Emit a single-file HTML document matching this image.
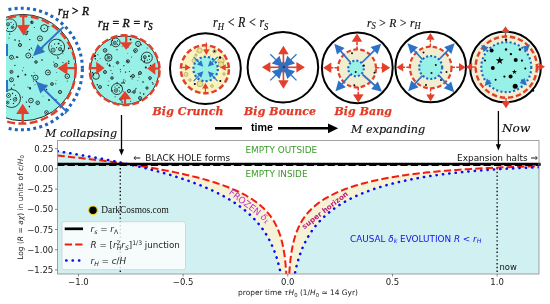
<!DOCTYPE html>
<html><head><meta charset="utf-8"><title>Big Bounce</title>
<style>html,body{margin:0;padding:0;background:#fff}svg{display:block}</style></head>
<body>
<svg width="550" height="304" viewBox="0 0 550 304">
<rect width="550" height="304" fill="#fff"/>
<defs><clipPath id="axclip"><rect x="57.50" y="140.60" width="481.50" height="133.40"/></clipPath></defs>
<g clip-path="url(#axclip)">
<path d="M57.50,151.31 L61.79,151.97 L66.03,152.64 L70.21,153.31 L74.34,153.98 L78.42,154.66 L82.44,155.34 L86.42,156.03 L90.34,156.72 L94.21,157.41 L98.03,158.11 L101.80,158.82 L105.52,159.52 L109.18,160.24 L112.80,160.96 L116.37,161.68 L119.90,162.41 L123.37,163.14 L126.79,163.88 L130.17,164.63 L133.50,165.38 L136.78,166.13 L140.01,166.89 L143.20,167.66 L146.34,168.43 L149.44,169.21 L152.49,169.99 L155.50,170.78 L158.46,171.57 L161.37,172.37 L164.24,173.18 L167.07,173.99 L169.86,174.81 L172.60,175.64 L175.30,176.47 L177.95,177.31 L180.57,178.16 L183.14,179.01 L185.67,179.87 L188.16,180.73 L190.61,181.61 L193.02,182.49 L195.38,183.38 L197.71,184.27 L200.00,185.18 L202.25,186.09 L204.46,187.01 L206.63,187.94 L208.77,188.87 L210.86,189.82 L212.92,190.77 L214.95,191.73 L216.93,192.70 L218.88,193.68 L220.79,194.67 L222.67,195.67 L224.51,196.67 L226.32,197.69 L228.09,198.72 L229.83,199.75 L231.53,200.80 L233.20,201.86 L234.84,202.93 L236.44,204.01 L238.01,205.10 L239.55,206.20 L241.05,207.31 L242.53,208.44 L243.97,209.58 L245.38,210.73 L246.76,211.89 L248.11,213.07 L249.43,214.26 L250.73,215.46 L251.99,216.67 L253.22,217.91 L254.42,219.15 L255.60,220.41 L256.75,221.69 L257.87,222.98 L258.96,224.28 L260.03,225.61 L261.07,226.95 L262.08,228.30 L263.07,229.68 L264.03,231.07 L264.96,232.48 L265.87,233.91 L266.76,235.36 L267.62,236.83 L268.46,238.32 L269.27,239.84 L270.07,241.37 L270.83,242.93 L271.58,244.51 L272.30,246.11 L273.01,247.74 L273.69,249.39 L274.34,251.07 L274.98,252.78 L275.60,254.52 L276.20,256.28 L276.77,258.07 L277.33,259.90 L277.87,261.76 L278.39,263.65 L278.89,265.57 L279.37,267.53 L279.84,269.53 L280.28,271.56 L280.71,273.63 L281.13,275.75 L281.52,277.91 L281.90,280.11 L282.27,282.36 L282.62,284.65 L282.95,287.00 L283.27,289.40 L283.58,291.86 L283.87,294.00 L284.14,294.00 L284.41,294.00 L284.66,294.00 L284.89,294.00 L285.12,294.00 L285.33,294.00 L285.53,294.00 L285.72,294.00 L285.90,294.00 L286.07,294.00 L286.22,294.00 L286.37,294.00 L286.51,294.00 L286.63,294.00 L286.75,294.00 L286.86,294.00 L286.96,294.00 L287.06,294.00 L287.14,294.00 L287.22,294.00 L287.29,294.00 L287.36,294.00 L287.41,294.00 L287.46,294.00 L287.51,294.00 L287.55,294.00 L287.59,294.00 L287.62,294.00 L287.64,294.00 L287.67,294.00 L287.68,294.00 L287.70,294.00 L287.71,294.00 L287.72,294.00 L287.73,294.00 L287.73,294.00 L287.74,294.00 L287.74,294.00 L287.74,294.00 L287.74,294.00 L287.74,294.00 L287.74,299.00 L57.50,299.00Z" fill="#d1f0f1"/>
<path d="M57.50,155.61 L61.79,156.05 L66.03,156.50 L70.21,156.94 L74.34,157.39 L78.42,157.84 L82.44,158.30 L86.42,158.75 L90.34,159.21 L94.21,159.68 L98.03,160.14 L101.80,160.61 L105.52,161.09 L109.18,161.56 L112.80,162.04 L116.37,162.52 L119.90,163.01 L123.37,163.50 L126.79,163.99 L130.17,164.49 L133.50,164.99 L136.78,165.49 L140.01,166.00 L143.20,166.51 L146.34,167.02 L149.44,167.54 L152.49,168.06 L155.50,168.59 L158.46,169.12 L161.37,169.65 L164.24,170.19 L167.07,170.73 L169.86,171.28 L172.60,171.83 L175.30,172.38 L177.95,172.94 L180.57,173.51 L183.14,174.08 L185.67,174.65 L188.16,175.23 L190.61,175.81 L193.02,176.40 L195.38,176.99 L197.71,177.59 L200.00,178.19 L202.25,178.80 L204.46,179.41 L206.63,180.03 L208.77,180.65 L210.86,181.28 L212.92,181.92 L214.95,182.56 L216.93,183.20 L218.88,183.86 L220.79,184.52 L222.67,185.18 L224.51,185.85 L226.32,186.53 L228.09,187.21 L229.83,187.91 L231.53,188.60 L233.20,189.31 L234.84,190.02 L236.44,190.74 L238.01,191.47 L239.55,192.20 L241.05,192.95 L242.53,193.70 L243.97,194.45 L245.38,195.22 L246.76,196.00 L248.11,196.78 L249.43,197.57 L250.73,198.37 L251.99,199.19 L253.22,200.01 L254.42,200.84 L255.60,201.68 L256.75,202.53 L257.87,203.39 L258.96,204.26 L260.03,205.14 L261.07,206.03 L262.08,206.94 L263.07,207.85 L264.03,208.78 L264.96,209.72 L265.87,210.68 L266.76,211.64 L267.62,212.62 L268.46,213.62 L269.27,214.63 L270.07,215.65 L270.83,216.69 L271.58,217.74 L272.30,218.81 L273.01,219.90 L273.69,221.00 L274.34,222.12 L274.98,223.26 L275.60,224.41 L276.20,225.59 L276.77,226.79 L277.33,228.00 L277.87,229.24 L278.39,230.50 L278.89,231.78 L279.37,233.09 L279.84,234.42 L280.28,235.78 L280.71,237.16 L281.13,238.57 L281.52,240.01 L281.90,241.48 L282.27,242.97 L282.62,244.51 L282.95,246.07 L283.27,247.67 L283.58,249.31 L283.87,250.98 L284.14,252.70 L284.41,254.45 L284.66,256.25 L284.89,258.10 L285.12,260.00 L285.33,261.94 L285.53,263.94 L285.72,266.00 L285.90,268.11 L286.07,270.29 L286.22,272.53 L286.37,274.85 L286.51,277.23 L286.63,279.70 L286.75,282.25 L286.86,284.88 L286.96,287.61 L287.06,290.44 L287.14,293.37 L287.22,294.00 L287.29,294.00 L287.36,294.00 L287.41,294.00 L287.46,294.00 L287.51,294.00 L287.55,294.00 L287.59,294.00 L287.62,294.00 L287.64,294.00 L287.67,294.00 L287.68,294.00 L287.70,294.00 L287.71,294.00 L287.72,294.00 L287.73,294.00 L287.73,294.00 L287.74,294.00 L287.74,294.00 L287.74,294.00 L287.74,294.00 L287.74,294.00 L287.74,294.00 L287.74,294.00 L287.74,294.00 L287.74,294.00 L287.74,294.00 L287.73,294.00 L287.73,294.00 L287.72,294.00 L287.71,294.00 L287.70,294.00 L287.68,294.00 L287.67,294.00 L287.64,294.00 L287.62,294.00 L287.59,294.00 L287.55,294.00 L287.51,294.00 L287.46,294.00 L287.41,294.00 L287.36,294.00 L287.29,294.00 L287.22,294.00 L287.14,294.00 L287.06,294.00 L286.96,294.00 L286.86,294.00 L286.75,294.00 L286.63,294.00 L286.51,294.00 L286.37,294.00 L286.22,294.00 L286.07,294.00 L285.90,294.00 L285.72,294.00 L285.53,294.00 L285.33,294.00 L285.12,294.00 L284.89,294.00 L284.66,294.00 L284.41,294.00 L284.14,294.00 L283.87,294.00 L283.58,291.86 L283.27,289.40 L282.95,287.00 L282.62,284.65 L282.27,282.36 L281.90,280.11 L281.52,277.91 L281.13,275.75 L280.71,273.63 L280.28,271.56 L279.84,269.53 L279.37,267.53 L278.89,265.57 L278.39,263.65 L277.87,261.76 L277.33,259.90 L276.77,258.07 L276.20,256.28 L275.60,254.52 L274.98,252.78 L274.34,251.07 L273.69,249.39 L273.01,247.74 L272.30,246.11 L271.58,244.51 L270.83,242.93 L270.07,241.37 L269.27,239.84 L268.46,238.32 L267.62,236.83 L266.76,235.36 L265.87,233.91 L264.96,232.48 L264.03,231.07 L263.07,229.68 L262.08,228.30 L261.07,226.95 L260.03,225.61 L258.96,224.28 L257.87,222.98 L256.75,221.69 L255.60,220.41 L254.42,219.15 L253.22,217.91 L251.99,216.67 L250.73,215.46 L249.43,214.26 L248.11,213.07 L246.76,211.89 L245.38,210.73 L243.97,209.58 L242.53,208.44 L241.05,207.31 L239.55,206.20 L238.01,205.10 L236.44,204.01 L234.84,202.93 L233.20,201.86 L231.53,200.80 L229.83,199.75 L228.09,198.72 L226.32,197.69 L224.51,196.67 L222.67,195.67 L220.79,194.67 L218.88,193.68 L216.93,192.70 L214.95,191.73 L212.92,190.77 L210.86,189.82 L208.77,188.87 L206.63,187.94 L204.46,187.01 L202.25,186.09 L200.00,185.18 L197.71,184.27 L195.38,183.38 L193.02,182.49 L190.61,181.61 L188.16,180.73 L185.67,179.87 L183.14,179.01 L180.57,178.16 L177.95,177.31 L175.30,176.47 L172.60,175.64 L169.86,174.81 L167.07,173.99 L164.24,173.18 L161.37,172.37 L158.46,171.57 L155.50,170.78 L152.49,169.99 L149.44,169.21 L146.34,168.43 L143.20,167.66 L140.01,166.89 L136.78,166.13 L133.50,165.38 L130.17,164.63 L126.79,163.88 L123.37,163.14 L119.90,162.41 L116.37,161.68 L112.80,160.96 L109.18,160.24 L105.52,159.52 L101.80,158.82 L98.03,158.11 L94.21,157.41 L90.34,156.72 L86.42,156.03 L82.44,155.34 L78.42,154.66 L74.34,153.98 L70.21,153.31 L66.03,152.64 L61.79,151.97 L57.50,151.31Z" fill="#f5f2d6"/>
<path d="M287.82,294.00 L287.82,294.00 L287.82,294.00 L287.83,294.00 L287.83,294.00 L287.83,294.00 L287.84,294.00 L287.85,294.00 L287.86,294.00 L287.87,294.00 L287.89,294.00 L287.91,294.00 L287.93,294.00 L287.96,294.00 L287.99,294.00 L288.03,294.00 L288.08,294.00 L288.13,294.00 L288.18,294.00 L288.25,294.00 L288.32,294.00 L288.39,294.00 L288.48,294.00 L288.57,294.00 L288.67,294.00 L288.78,294.00 L288.90,294.00 L289.03,294.00 L289.17,294.00 L289.32,294.00 L289.48,294.00 L289.65,294.00 L289.83,294.00 L290.03,294.00 L290.23,294.00 L290.45,294.00 L290.69,294.00 L290.93,294.00 L291.19,294.00 L291.46,294.00 L291.75,293.93 L292.05,291.35 L292.37,288.84 L292.70,286.38 L293.05,283.98 L293.41,281.64 L293.79,279.34 L294.19,277.09 L294.61,274.89 L295.04,272.74 L295.49,270.62 L295.96,268.55 L296.45,266.52 L296.95,264.53 L297.48,262.57 L298.03,260.65 L298.59,258.77 L299.18,256.91 L299.79,255.10 L300.42,253.31 L301.07,251.55 L301.74,249.82 L302.44,248.13 L303.16,246.45 L303.90,244.81 L304.67,243.19 L305.45,241.60 L306.27,240.03 L307.11,238.49 L307.97,236.97 L308.86,235.48 L309.77,234.00 L310.71,232.55 L311.68,231.12 L312.67,229.71 L313.69,228.33 L314.74,226.96 L315.82,225.61 L316.93,224.28 L318.06,222.97 L319.22,221.68 L320.41,220.41 L321.64,219.16 L322.89,217.92 L324.17,216.70 L325.48,215.50 L326.83,214.31 L328.21,213.15 L329.61,212.00 L331.05,210.86 L332.53,209.74 L334.04,208.64 L335.58,207.55 L337.15,206.48 L338.76,205.43 L340.40,204.39 L342.08,203.37 L343.79,202.36 L345.54,201.36 L347.33,200.39 L349.15,199.42 L351.00,198.48 L352.90,197.54 L354.83,196.62 L356.80,195.72 L358.81,194.83 L360.86,193.96 L362.95,193.10 L365.07,192.25 L367.24,191.42 L369.44,190.61 L371.69,189.81 L373.98,189.02 L376.31,188.25 L378.68,187.49 L381.09,186.75 L383.54,186.02 L386.04,185.31 L388.58,184.61 L391.16,183.92 L393.79,183.25 L396.46,182.59 L399.18,181.95 L401.94,181.32 L404.74,180.71 L407.59,180.11 L410.49,179.52 L413.44,178.95 L416.43,178.39 L419.46,177.85 L422.55,177.32 L425.68,176.80 L428.86,176.30 L432.09,175.81 L435.37,175.34 L438.70,174.87 L442.08,174.43 L445.51,173.99 L448.98,173.57 L452.51,173.16 L456.09,172.76 L459.72,172.38 L463.41,172.00 L467.14,171.65 L470.93,171.30 L474.77,170.96 L478.67,170.64 L482.62,170.33 L486.62,170.03 L490.68,169.74 L494.79,169.46 L498.95,169.19 L503.18,168.93 L507.45,168.68 L511.79,168.45 L516.18,168.22 L520.63,168.00 L525.13,167.79 L529.70,167.59 L534.32,167.40 L539.00,167.22 L539.00,299.00 L287.82,299.00Z" fill="#d1f0f1"/>
<path d="M287.82,294.00 L287.82,294.00 L287.82,294.00 L287.83,294.00 L287.83,294.00 L287.83,294.00 L287.84,294.00 L287.85,294.00 L287.86,294.00 L287.87,294.00 L287.89,294.00 L287.91,294.00 L287.93,294.00 L287.96,294.00 L287.99,294.00 L288.03,294.00 L288.08,294.00 L288.13,294.00 L288.18,294.00 L288.25,294.00 L288.32,294.00 L288.39,294.00 L288.48,291.46 L288.57,288.51 L288.67,285.67 L288.78,282.94 L288.90,280.29 L289.03,277.73 L289.17,275.26 L289.32,272.87 L289.48,270.55 L289.65,268.30 L289.83,266.12 L290.03,264.00 L290.23,261.94 L290.45,259.94 L290.69,257.99 L290.93,256.09 L291.19,254.25 L291.46,252.44 L291.75,250.69 L292.05,248.97 L292.37,247.30 L292.70,245.66 L293.05,244.06 L293.41,242.49 L293.79,240.96 L294.19,239.46 L294.61,238.00 L295.04,236.56 L295.49,235.15 L295.96,233.77 L296.45,232.42 L296.95,231.09 L297.48,229.78 L298.03,228.50 L298.59,227.25 L299.18,226.01 L299.79,224.80 L300.42,223.61 L301.07,222.44 L301.74,221.29 L302.44,220.15 L303.16,219.04 L303.90,217.94 L304.67,216.87 L305.45,215.80 L306.27,214.76 L307.11,213.73 L307.97,212.72 L308.86,211.72 L309.77,210.74 L310.71,209.77 L311.68,208.82 L312.67,207.88 L313.69,206.95 L314.74,206.04 L315.82,205.14 L316.93,204.26 L318.06,203.38 L319.22,202.52 L320.41,201.68 L321.64,200.84 L322.89,200.02 L324.17,199.20 L325.48,198.40 L326.83,197.61 L328.21,196.83 L329.61,196.07 L331.05,195.31 L332.53,194.56 L334.04,193.83 L335.58,193.11 L337.15,192.39 L338.76,191.69 L340.40,191.00 L342.08,190.31 L343.79,189.64 L345.54,188.98 L347.33,188.33 L349.15,187.69 L351.00,187.05 L352.90,186.43 L354.83,185.82 L356.80,185.22 L358.81,184.62 L360.86,184.04 L362.95,183.47 L365.07,182.91 L367.24,182.35 L369.44,181.81 L371.69,181.27 L373.98,180.75 L376.31,180.24 L378.68,179.73 L381.09,179.23 L383.54,178.75 L386.04,178.27 L388.58,177.81 L391.16,177.35 L393.79,176.90 L396.46,176.46 L399.18,176.04 L401.94,175.62 L404.74,175.21 L407.59,174.81 L410.49,174.42 L413.44,174.04 L416.43,173.66 L419.46,173.30 L422.55,172.95 L425.68,172.60 L428.86,172.27 L432.09,171.94 L435.37,171.63 L438.70,171.32 L442.08,171.02 L445.51,170.73 L448.98,170.45 L452.51,170.17 L456.09,169.91 L459.72,169.65 L463.41,169.41 L467.14,169.17 L470.93,168.93 L474.77,168.71 L478.67,168.50 L482.62,168.29 L486.62,168.09 L490.68,167.89 L494.79,167.71 L498.95,167.53 L503.18,167.36 L507.45,167.19 L511.79,167.03 L516.18,166.88 L520.63,166.74 L525.13,166.60 L529.70,166.46 L534.32,166.34 L539.00,166.22 L539.00,167.22 L534.32,167.40 L529.70,167.59 L525.13,167.79 L520.63,168.00 L516.18,168.22 L511.79,168.45 L507.45,168.68 L503.18,168.93 L498.95,169.19 L494.79,169.46 L490.68,169.74 L486.62,170.03 L482.62,170.33 L478.67,170.64 L474.77,170.96 L470.93,171.30 L467.14,171.65 L463.41,172.00 L459.72,172.38 L456.09,172.76 L452.51,173.16 L448.98,173.57 L445.51,173.99 L442.08,174.43 L438.70,174.87 L435.37,175.34 L432.09,175.81 L428.86,176.30 L425.68,176.80 L422.55,177.32 L419.46,177.85 L416.43,178.39 L413.44,178.95 L410.49,179.52 L407.59,180.11 L404.74,180.71 L401.94,181.32 L399.18,181.95 L396.46,182.59 L393.79,183.25 L391.16,183.92 L388.58,184.61 L386.04,185.31 L383.54,186.02 L381.09,186.75 L378.68,187.49 L376.31,188.25 L373.98,189.02 L371.69,189.81 L369.44,190.61 L367.24,191.42 L365.07,192.25 L362.95,193.10 L360.86,193.96 L358.81,194.83 L356.80,195.72 L354.83,196.62 L352.90,197.54 L351.00,198.48 L349.15,199.42 L347.33,200.39 L345.54,201.36 L343.79,202.36 L342.08,203.37 L340.40,204.39 L338.76,205.43 L337.15,206.48 L335.58,207.55 L334.04,208.64 L332.53,209.74 L331.05,210.86 L329.61,212.00 L328.21,213.15 L326.83,214.31 L325.48,215.50 L324.17,216.70 L322.89,217.92 L321.64,219.16 L320.41,220.41 L319.22,221.68 L318.06,222.97 L316.93,224.28 L315.82,225.61 L314.74,226.96 L313.69,228.33 L312.67,229.71 L311.68,231.12 L310.71,232.55 L309.77,234.00 L308.86,235.48 L307.97,236.97 L307.11,238.49 L306.27,240.03 L305.45,241.60 L304.67,243.19 L303.90,244.81 L303.16,246.45 L302.44,248.13 L301.74,249.82 L301.07,251.55 L300.42,253.31 L299.79,255.10 L299.18,256.91 L298.59,258.77 L298.03,260.65 L297.48,262.57 L296.95,264.53 L296.45,266.52 L295.96,268.55 L295.49,270.62 L295.04,272.74 L294.61,274.89 L294.19,277.09 L293.79,279.34 L293.41,281.64 L293.05,283.98 L292.70,286.38 L292.37,288.84 L292.05,291.35 L291.75,293.93 L291.46,294.00 L291.19,294.00 L290.93,294.00 L290.69,294.00 L290.45,294.00 L290.23,294.00 L290.03,294.00 L289.83,294.00 L289.65,294.00 L289.48,294.00 L289.32,294.00 L289.17,294.00 L289.03,294.00 L288.90,294.00 L288.78,294.00 L288.67,294.00 L288.57,294.00 L288.48,294.00 L288.39,294.00 L288.32,294.00 L288.25,294.00 L288.18,294.00 L288.13,294.00 L288.08,294.00 L288.03,294.00 L287.99,294.00 L287.96,294.00 L287.93,294.00 L287.91,294.00 L287.89,294.00 L287.87,294.00 L287.86,294.00 L287.85,294.00 L287.84,294.00 L287.83,294.00 L287.83,294.00 L287.83,294.00 L287.82,294.00 L287.82,294.00 L287.82,294.00Z" fill="#f5f2d6"/>
<path d="M57.50,151.31 L58.82,151.52 L60.12,151.72 L61.41,151.91 L62.68,152.11 L63.93,152.31 L65.17,152.50 L66.39,152.70 L67.59,152.89 L68.78,153.08 L69.96,153.27 L71.12,153.45 L72.26,153.64 L73.39,153.82 L74.50,154.01 L75.60,154.19 L76.68,154.37 L77.75,154.55 L78.80,154.72 L79.84,154.90 L80.86,155.07 L81.87,155.24 L82.87,155.41 L83.85,155.58 L84.81,155.75 L85.76,155.91 L86.70,156.07 L87.63,156.24 L88.54,156.40 L89.43,156.55 L90.32,156.71 L91.18,156.87 L92.04,157.02 L92.88,157.17 L93.71,157.32 L94.53,157.47 L95.33,157.62 L96.12,157.76 L96.90,157.90 L97.67,158.04 L98.42,158.18 L99.16,158.32 L99.89,158.46 L100.60,158.59 L101.31,158.72 L102.00,158.85 L102.68,158.98 L103.35,159.11 L104.00,159.23 L104.65,159.36 L105.28,159.48 L105.90,159.60 L106.51,159.72 L107.11,159.83 L107.70,159.95 L108.28,160.06 L108.84,160.17 L109.40,160.28 L109.94,160.39 L110.48,160.49 L111.00,160.60 L111.51,160.70 L112.02,160.80 L112.51,160.90 L112.99,160.99 L113.46,161.09 L113.93,161.18 L114.38,161.27 L114.82,161.36 L115.26,161.45 L115.68,161.54 L116.10,161.62 L116.50,161.71 L116.90,161.79 L117.29,161.87 L117.67,161.95 L118.04,162.02 L118.40,162.10 L118.75,162.17 L119.10,162.24 L119.43,162.31 L119.76,162.38 L120.08,162.45 L120.39,162.51 L120.69,162.58 L120.99,162.64 L121.28,162.70 L121.56,162.76 L121.83,162.82 L122.09,162.87 L122.35,162.93 L122.60,162.98 L122.85,163.03 L123.08,163.08 L123.31,163.13 L123.53,163.18 L123.75,163.23 L123.96,163.27 L124.16,163.31 L124.36,163.36 L124.55,163.40 L124.73,163.44 L124.91,163.47 L125.08,163.51 L125.24,163.55 L125.40,163.58 L125.56,163.61 L125.71,163.65 L125.85,163.68 L125.99,163.71 L126.12,163.74 L126.25,163.76 L126.37,163.79 L126.49,163.82 L126.60,163.84 L126.70,163.86 L126.81,163.89 L126.91,163.91 L127.00,163.93 L127.09,163.95 L127.17,163.97 L127.25,163.98 L127.33,164.00 L127.40,164.02 L127.47,164.03 L127.54,164.05 L127.60,164.06 L127.66,164.07 L127.71,164.08 L127.76,164.10 L127.81,164.11 L127.86,164.12 L127.90,164.13 L127.94,164.13 L127.98,164.14 L128.01,164.15 L128.04,164.16 L128.07,164.16 L128.10,164.17 L128.12,164.17 L128.14,164.18 L128.16,164.18 L128.18,164.19 L128.19,164.19 L128.21,164.19 L128.22,164.20 L128.23,164.20 L128.24,164.20 L128.25,164.20 L128.26,164.20 L128.26,164.20 L128.27,164.21 L128.27,164.21 L128.27,164.21 L128.28,164.21 L128.28,164.21 L128.28,164.21 L128.28,164.21 L128.28,164.21 L128.28,164.21 L128.28,164.21 L128.28,164.21 L57.50,164.21Z" fill="#cdeee2"/>
<path d="M57.50,155.61 L58.82,155.75 L60.12,155.88 L61.41,156.01 L62.68,156.14 L63.93,156.27 L65.17,156.40 L66.39,156.53 L67.59,156.66 L68.78,156.79 L69.96,156.91 L71.12,157.04 L72.26,157.16 L73.39,157.29 L74.50,157.41 L75.60,157.53 L76.68,157.65 L77.75,157.77 L78.80,157.88 L79.84,158.00 L80.86,158.12 L81.87,158.23 L82.87,158.34 L83.85,158.46 L84.81,158.57 L85.76,158.68 L86.70,158.79 L87.63,158.89 L88.54,159.00 L89.43,159.11 L90.32,159.21 L91.18,159.31 L92.04,159.42 L92.88,159.52 L93.71,159.62 L94.53,159.72 L95.33,159.81 L96.12,159.91 L96.90,160.00 L97.67,160.10 L98.42,160.19 L99.16,160.28 L99.89,160.37 L100.60,160.46 L101.31,160.55 L102.00,160.64 L102.68,160.72 L103.35,160.81 L104.00,160.89 L104.65,160.97 L105.28,161.06 L105.90,161.14 L106.51,161.21 L107.11,161.29 L107.70,161.37 L108.28,161.44 L108.84,161.52 L109.40,161.59 L109.94,161.66 L110.48,161.73 L111.00,161.80 L111.51,161.87 L112.02,161.94 L112.51,162.00 L112.99,162.07 L113.46,162.13 L113.93,162.19 L114.38,162.25 L114.82,162.31 L115.26,162.37 L115.68,162.43 L116.10,162.49 L116.50,162.54 L116.90,162.60 L117.29,162.65 L117.67,162.70 L118.04,162.75 L118.40,162.80 L118.75,162.85 L119.10,162.90 L119.43,162.94 L119.76,162.99 L120.08,163.03 L120.39,163.08 L120.69,163.12 L120.99,163.16 L121.28,163.20 L121.56,163.24 L121.83,163.28 L122.09,163.32 L122.35,163.35 L122.60,163.39 L122.85,163.42 L123.08,163.46 L123.31,163.49 L123.53,163.52 L123.75,163.55 L123.96,163.58 L124.16,163.61 L124.36,163.64 L124.55,163.67 L124.73,163.69 L124.91,163.72 L125.08,163.74 L125.24,163.77 L125.40,163.79 L125.56,163.81 L125.71,163.83 L125.85,163.85 L125.99,163.87 L126.12,163.89 L126.25,163.91 L126.37,163.93 L126.49,163.95 L126.60,163.96 L126.70,163.98 L126.81,163.99 L126.91,164.01 L127.00,164.02 L127.09,164.03 L127.17,164.05 L127.25,164.06 L127.33,164.07 L127.40,164.08 L127.47,164.09 L127.54,164.10 L127.60,164.11 L127.66,164.12 L127.71,164.13 L127.76,164.13 L127.81,164.14 L127.86,164.15 L127.90,164.15 L127.94,164.16 L127.98,164.16 L128.01,164.17 L128.04,164.17 L128.07,164.18 L128.10,164.18 L128.12,164.18 L128.14,164.19 L128.16,164.19 L128.18,164.19 L128.19,164.20 L128.21,164.20 L128.22,164.20 L128.23,164.20 L128.24,164.20 L128.25,164.20 L128.26,164.21 L128.26,164.21 L128.27,164.21 L128.27,164.21 L128.27,164.21 L128.28,164.21 L128.28,164.21 L128.28,164.21 L128.28,164.21 L128.28,164.21 L128.28,164.21 L128.28,164.21 L128.28,164.21 L57.50,164.21Z" fill="#d1f0f1"/>
<line x1="120.30" y1="164.21" x2="120.30" y2="274.00" stroke="#111" stroke-width="1.4" stroke-dasharray="1.4 2.4"/>
<line x1="497.13" y1="164.21" x2="497.13" y2="274.00" stroke="#111" stroke-width="1.4" stroke-dasharray="1.4 2.4"/>
<path d="M57.50,155.61 L61.79,156.05 L66.03,156.50 L70.21,156.94 L74.34,157.39 L78.42,157.84 L82.44,158.30 L86.42,158.75 L90.34,159.21 L94.21,159.68 L98.03,160.14 L101.80,160.61 L105.52,161.09 L109.18,161.56 L112.80,162.04 L116.37,162.52 L119.90,163.01 L123.37,163.50 L126.79,163.99 L130.17,164.49 L133.50,164.99 L136.78,165.49 L140.01,166.00 L143.20,166.51 L146.34,167.02 L149.44,167.54 L152.49,168.06 L155.50,168.59 L158.46,169.12 L161.37,169.65 L164.24,170.19 L167.07,170.73 L169.86,171.28 L172.60,171.83 L175.30,172.38 L177.95,172.94 L180.57,173.51 L183.14,174.08 L185.67,174.65 L188.16,175.23 L190.61,175.81 L193.02,176.40 L195.38,176.99 L197.71,177.59 L200.00,178.19 L202.25,178.80 L204.46,179.41 L206.63,180.03 L208.77,180.65 L210.86,181.28 L212.92,181.92 L214.95,182.56 L216.93,183.20 L218.88,183.86 L220.79,184.52 L222.67,185.18 L224.51,185.85 L226.32,186.53 L228.09,187.21 L229.83,187.91 L231.53,188.60 L233.20,189.31 L234.84,190.02 L236.44,190.74 L238.01,191.47 L239.55,192.20 L241.05,192.95 L242.53,193.70 L243.97,194.45 L245.38,195.22 L246.76,196.00 L248.11,196.78 L249.43,197.57 L250.73,198.37 L251.99,199.19 L253.22,200.01 L254.42,200.84 L255.60,201.68 L256.75,202.53 L257.87,203.39 L258.96,204.26 L260.03,205.14 L261.07,206.03 L262.08,206.94 L263.07,207.85 L264.03,208.78 L264.96,209.72 L265.87,210.68 L266.76,211.64 L267.62,212.62 L268.46,213.62 L269.27,214.63 L270.07,215.65 L270.83,216.69 L271.58,217.74 L272.30,218.81 L273.01,219.90 L273.69,221.00 L274.34,222.12 L274.98,223.26 L275.60,224.41 L276.20,225.59 L276.77,226.79 L277.33,228.00 L277.87,229.24 L278.39,230.50 L278.89,231.78 L279.37,233.09 L279.84,234.42 L280.28,235.78 L280.71,237.16 L281.13,238.57 L281.52,240.01 L281.90,241.48 L282.27,242.97 L282.62,244.51 L282.95,246.07 L283.27,247.67 L283.58,249.31 L283.87,250.98 L284.14,252.70 L284.41,254.45 L284.66,256.25 L284.89,258.10 L285.12,260.00 L285.33,261.94 L285.53,263.94 L285.72,266.00 L285.90,268.11 L286.07,270.29 L286.22,272.53 L286.37,274.85 L286.51,277.23 L286.63,279.70 L286.75,282.25 L286.86,284.88 L286.96,287.61 L287.06,290.44 L287.14,293.37 L287.22,294.00 L287.29,294.00 L287.36,294.00 L287.41,294.00 L287.46,294.00 L287.51,294.00 L287.55,294.00 L287.59,294.00 L287.62,294.00 L287.64,294.00 L287.67,294.00 L287.68,294.00 L287.70,294.00 L287.71,294.00 L287.72,294.00 L287.73,294.00 L287.73,294.00 L287.74,294.00 L287.74,294.00 L287.74,294.00 L287.74,294.00 L287.74,294.00" fill="none" stroke="#f21d12" stroke-width="2" stroke-dasharray="7.3 3.2"/>
<path d="M57.50,151.31 L61.79,151.97 L66.03,152.64 L70.21,153.31 L74.34,153.98 L78.42,154.66 L82.44,155.34 L86.42,156.03 L90.34,156.72 L94.21,157.41 L98.03,158.11 L101.80,158.82 L105.52,159.52 L109.18,160.24 L112.80,160.96 L116.37,161.68 L119.90,162.41 L123.37,163.14 L126.79,163.88 L130.17,164.63 L133.50,165.38 L136.78,166.13 L140.01,166.89 L143.20,167.66 L146.34,168.43 L149.44,169.21 L152.49,169.99 L155.50,170.78 L158.46,171.57 L161.37,172.37 L164.24,173.18 L167.07,173.99 L169.86,174.81 L172.60,175.64 L175.30,176.47 L177.95,177.31 L180.57,178.16 L183.14,179.01 L185.67,179.87 L188.16,180.73 L190.61,181.61 L193.02,182.49 L195.38,183.38 L197.71,184.27 L200.00,185.18 L202.25,186.09 L204.46,187.01 L206.63,187.94 L208.77,188.87 L210.86,189.82 L212.92,190.77 L214.95,191.73 L216.93,192.70 L218.88,193.68 L220.79,194.67 L222.67,195.67 L224.51,196.67 L226.32,197.69 L228.09,198.72 L229.83,199.75 L231.53,200.80 L233.20,201.86 L234.84,202.93 L236.44,204.01 L238.01,205.10 L239.55,206.20 L241.05,207.31 L242.53,208.44 L243.97,209.58 L245.38,210.73 L246.76,211.89 L248.11,213.07 L249.43,214.26 L250.73,215.46 L251.99,216.67 L253.22,217.91 L254.42,219.15 L255.60,220.41 L256.75,221.69 L257.87,222.98 L258.96,224.28 L260.03,225.61 L261.07,226.95 L262.08,228.30 L263.07,229.68 L264.03,231.07 L264.96,232.48 L265.87,233.91 L266.76,235.36 L267.62,236.83 L268.46,238.32 L269.27,239.84 L270.07,241.37 L270.83,242.93 L271.58,244.51 L272.30,246.11 L273.01,247.74 L273.69,249.39 L274.34,251.07 L274.98,252.78 L275.60,254.52 L276.20,256.28 L276.77,258.07 L277.33,259.90 L277.87,261.76 L278.39,263.65 L278.89,265.57 L279.37,267.53 L279.84,269.53 L280.28,271.56 L280.71,273.63 L281.13,275.75 L281.52,277.91 L281.90,280.11 L282.27,282.36 L282.62,284.65 L282.95,287.00 L283.27,289.40 L283.58,291.86 L283.87,294.00 L284.14,294.00 L284.41,294.00 L284.66,294.00 L284.89,294.00 L285.12,294.00 L285.33,294.00 L285.53,294.00 L285.72,294.00 L285.90,294.00 L286.07,294.00 L286.22,294.00 L286.37,294.00 L286.51,294.00 L286.63,294.00 L286.75,294.00 L286.86,294.00 L286.96,294.00 L287.06,294.00 L287.14,294.00 L287.22,294.00 L287.29,294.00 L287.36,294.00 L287.41,294.00 L287.46,294.00 L287.51,294.00 L287.55,294.00 L287.59,294.00 L287.62,294.00 L287.64,294.00 L287.67,294.00 L287.68,294.00 L287.70,294.00 L287.71,294.00 L287.72,294.00 L287.73,294.00 L287.73,294.00 L287.74,294.00 L287.74,294.00 L287.74,294.00 L287.74,294.00 L287.74,294.00" fill="none" stroke="#0a0af5" stroke-width="2.5" stroke-linecap="round" stroke-dasharray="0.3 6.1"/>
<path d="M287.82,294.00 L287.82,294.00 L287.82,294.00 L287.83,294.00 L287.83,294.00 L287.83,294.00 L287.84,294.00 L287.85,294.00 L287.86,294.00 L287.87,294.00 L287.89,294.00 L287.91,294.00 L287.93,294.00 L287.96,294.00 L287.99,294.00 L288.03,294.00 L288.08,294.00 L288.13,294.00 L288.18,294.00 L288.25,294.00 L288.32,294.00 L288.39,294.00 L288.48,291.46 L288.57,288.51 L288.67,285.67 L288.78,282.94 L288.90,280.29 L289.03,277.73 L289.17,275.26 L289.32,272.87 L289.48,270.55 L289.65,268.30 L289.83,266.12 L290.03,264.00 L290.23,261.94 L290.45,259.94 L290.69,257.99 L290.93,256.09 L291.19,254.25 L291.46,252.44 L291.75,250.69 L292.05,248.97 L292.37,247.30 L292.70,245.66 L293.05,244.06 L293.41,242.49 L293.79,240.96 L294.19,239.46 L294.61,238.00 L295.04,236.56 L295.49,235.15 L295.96,233.77 L296.45,232.42 L296.95,231.09 L297.48,229.78 L298.03,228.50 L298.59,227.25 L299.18,226.01 L299.79,224.80 L300.42,223.61 L301.07,222.44 L301.74,221.29 L302.44,220.15 L303.16,219.04 L303.90,217.94 L304.67,216.87 L305.45,215.80 L306.27,214.76 L307.11,213.73 L307.97,212.72 L308.86,211.72 L309.77,210.74 L310.71,209.77 L311.68,208.82 L312.67,207.88 L313.69,206.95 L314.74,206.04 L315.82,205.14 L316.93,204.26 L318.06,203.38 L319.22,202.52 L320.41,201.68 L321.64,200.84 L322.89,200.02 L324.17,199.20 L325.48,198.40 L326.83,197.61 L328.21,196.83 L329.61,196.07 L331.05,195.31 L332.53,194.56 L334.04,193.83 L335.58,193.11 L337.15,192.39 L338.76,191.69 L340.40,191.00 L342.08,190.31 L343.79,189.64 L345.54,188.98 L347.33,188.33 L349.15,187.69 L351.00,187.05 L352.90,186.43 L354.83,185.82 L356.80,185.22 L358.81,184.62 L360.86,184.04 L362.95,183.47 L365.07,182.91 L367.24,182.35 L369.44,181.81 L371.69,181.27 L373.98,180.75 L376.31,180.24 L378.68,179.73 L381.09,179.23 L383.54,178.75 L386.04,178.27 L388.58,177.81 L391.16,177.35 L393.79,176.90 L396.46,176.46 L399.18,176.04 L401.94,175.62 L404.74,175.21 L407.59,174.81 L410.49,174.42 L413.44,174.04 L416.43,173.66 L419.46,173.30 L422.55,172.95 L425.68,172.60 L428.86,172.27 L432.09,171.94 L435.37,171.63 L438.70,171.32 L442.08,171.02 L445.51,170.73 L448.98,170.45 L452.51,170.17 L456.09,169.91 L459.72,169.65 L463.41,169.41 L467.14,169.17 L470.93,168.93 L474.77,168.71 L478.67,168.50 L482.62,168.29 L486.62,168.09 L490.68,167.89 L494.79,167.71 L498.95,167.53 L503.18,167.36 L507.45,167.19 L511.79,167.03 L516.18,166.88 L520.63,166.74 L525.13,166.60 L529.70,166.46 L534.32,166.34 L539.00,166.22" fill="none" stroke="#f21d12" stroke-width="2" stroke-dasharray="7.3 3.2"/>
<path d="M287.82,294.00 L287.82,294.00 L287.82,294.00 L287.83,294.00 L287.83,294.00 L287.83,294.00 L287.84,294.00 L287.85,294.00 L287.86,294.00 L287.87,294.00 L287.89,294.00 L287.91,294.00 L287.93,294.00 L287.96,294.00 L287.99,294.00 L288.03,294.00 L288.08,294.00 L288.13,294.00 L288.18,294.00 L288.25,294.00 L288.32,294.00 L288.39,294.00 L288.48,294.00 L288.57,294.00 L288.67,294.00 L288.78,294.00 L288.90,294.00 L289.03,294.00 L289.17,294.00 L289.32,294.00 L289.48,294.00 L289.65,294.00 L289.83,294.00 L290.03,294.00 L290.23,294.00 L290.45,294.00 L290.69,294.00 L290.93,294.00 L291.19,294.00 L291.46,294.00 L291.75,293.93 L292.05,291.35 L292.37,288.84 L292.70,286.38 L293.05,283.98 L293.41,281.64 L293.79,279.34 L294.19,277.09 L294.61,274.89 L295.04,272.74 L295.49,270.62 L295.96,268.55 L296.45,266.52 L296.95,264.53 L297.48,262.57 L298.03,260.65 L298.59,258.77 L299.18,256.91 L299.79,255.10 L300.42,253.31 L301.07,251.55 L301.74,249.82 L302.44,248.13 L303.16,246.45 L303.90,244.81 L304.67,243.19 L305.45,241.60 L306.27,240.03 L307.11,238.49 L307.97,236.97 L308.86,235.48 L309.77,234.00 L310.71,232.55 L311.68,231.12 L312.67,229.71 L313.69,228.33 L314.74,226.96 L315.82,225.61 L316.93,224.28 L318.06,222.97 L319.22,221.68 L320.41,220.41 L321.64,219.16 L322.89,217.92 L324.17,216.70 L325.48,215.50 L326.83,214.31 L328.21,213.15 L329.61,212.00 L331.05,210.86 L332.53,209.74 L334.04,208.64 L335.58,207.55 L337.15,206.48 L338.76,205.43 L340.40,204.39 L342.08,203.37 L343.79,202.36 L345.54,201.36 L347.33,200.39 L349.15,199.42 L351.00,198.48 L352.90,197.54 L354.83,196.62 L356.80,195.72 L358.81,194.83 L360.86,193.96 L362.95,193.10 L365.07,192.25 L367.24,191.42 L369.44,190.61 L371.69,189.81 L373.98,189.02 L376.31,188.25 L378.68,187.49 L381.09,186.75 L383.54,186.02 L386.04,185.31 L388.58,184.61 L391.16,183.92 L393.79,183.25 L396.46,182.59 L399.18,181.95 L401.94,181.32 L404.74,180.71 L407.59,180.11 L410.49,179.52 L413.44,178.95 L416.43,178.39 L419.46,177.85 L422.55,177.32 L425.68,176.80 L428.86,176.30 L432.09,175.81 L435.37,175.34 L438.70,174.87 L442.08,174.43 L445.51,173.99 L448.98,173.57 L452.51,173.16 L456.09,172.76 L459.72,172.38 L463.41,172.00 L467.14,171.65 L470.93,171.30 L474.77,170.96 L478.67,170.64 L482.62,170.33 L486.62,170.03 L490.68,169.74 L494.79,169.46 L498.95,169.19 L503.18,168.93 L507.45,168.68 L511.79,168.45 L516.18,168.22 L520.63,168.00 L525.13,167.79 L529.70,167.59 L534.32,167.40 L539.00,167.22" fill="none" stroke="#0a0af5" stroke-width="2.5" stroke-linecap="round" stroke-dasharray="0.3 6.1"/>
</g>
<line x1="57.20" y1="164.0" x2="540.50" y2="164.0" stroke="#000" stroke-width="2.3"/>
<line x1="57.20" y1="164.9" x2="540.50" y2="164.9" stroke="#000" stroke-width="2.3" stroke-dasharray="7.2 3.2"/>
<rect x="57.50" y="140.60" width="481.50" height="133.40" fill="none" stroke="#8a8a8a" stroke-width="0.8"/>
<line x1="55.00" y1="148.68" x2="57.50" y2="148.68" stroke="#555" stroke-width="0.7"/>
<text x="53.30" y="151.78" font-family="DejaVu Sans, Liberation Sans, sans-serif" font-size="8.5" fill="#222" text-anchor="end">0.25</text>
<line x1="55.00" y1="168.90" x2="57.50" y2="168.90" stroke="#555" stroke-width="0.7"/>
<text x="53.30" y="172.00" font-family="DejaVu Sans, Liberation Sans, sans-serif" font-size="8.5" fill="#222" text-anchor="end">0.00</text>
<line x1="55.00" y1="189.11" x2="57.50" y2="189.11" stroke="#555" stroke-width="0.7"/>
<text x="53.30" y="192.21" font-family="DejaVu Sans, Liberation Sans, sans-serif" font-size="8.5" fill="#222" text-anchor="end">−0.25</text>
<line x1="55.00" y1="209.32" x2="57.50" y2="209.32" stroke="#555" stroke-width="0.7"/>
<text x="53.30" y="212.42" font-family="DejaVu Sans, Liberation Sans, sans-serif" font-size="8.5" fill="#222" text-anchor="end">−0.50</text>
<line x1="55.00" y1="229.53" x2="57.50" y2="229.53" stroke="#555" stroke-width="0.7"/>
<text x="53.30" y="232.63" font-family="DejaVu Sans, Liberation Sans, sans-serif" font-size="8.5" fill="#222" text-anchor="end">−0.75</text>
<line x1="55.00" y1="249.75" x2="57.50" y2="249.75" stroke="#555" stroke-width="0.7"/>
<text x="53.30" y="252.85" font-family="DejaVu Sans, Liberation Sans, sans-serif" font-size="8.5" fill="#222" text-anchor="end">−1.00</text>
<line x1="55.00" y1="269.96" x2="57.50" y2="269.96" stroke="#555" stroke-width="0.7"/>
<text x="53.30" y="273.06" font-family="DejaVu Sans, Liberation Sans, sans-serif" font-size="8.5" fill="#222" text-anchor="end">−1.25</text>
<line x1="78.43" y1="274.00" x2="78.43" y2="276.50" stroke="#555" stroke-width="0.7"/>
<text x="78.43" y="284.60" font-family="DejaVu Sans, Liberation Sans, sans-serif" font-size="8.5" fill="#222" text-anchor="middle">−1.0</text>
<line x1="183.11" y1="274.00" x2="183.11" y2="276.50" stroke="#555" stroke-width="0.7"/>
<text x="183.11" y="284.60" font-family="DejaVu Sans, Liberation Sans, sans-serif" font-size="8.5" fill="#222" text-anchor="middle">−0.5</text>
<line x1="287.78" y1="274.00" x2="287.78" y2="276.50" stroke="#555" stroke-width="0.7"/>
<text x="287.78" y="284.60" font-family="DejaVu Sans, Liberation Sans, sans-serif" font-size="8.5" fill="#222" text-anchor="middle">0.0</text>
<line x1="392.46" y1="274.00" x2="392.46" y2="276.50" stroke="#555" stroke-width="0.7"/>
<text x="392.46" y="284.60" font-family="DejaVu Sans, Liberation Sans, sans-serif" font-size="8.5" fill="#222" text-anchor="middle">0.5</text>
<line x1="497.13" y1="274.00" x2="497.13" y2="276.50" stroke="#555" stroke-width="0.7"/>
<text x="497.13" y="284.60" font-family="DejaVu Sans, Liberation Sans, sans-serif" font-size="8.5" fill="#222" text-anchor="middle">1.0</text>
<text x="298" y="295.2" font-family="DejaVu Sans, Liberation Sans, sans-serif" font-size="7.45" fill="#222" text-anchor="middle">proper time <tspan font-style="italic">τH</tspan><tspan font-size="5.3" dy="1.4">0</tspan><tspan dy="-1.4"> (1/</tspan><tspan font-style="italic">H</tspan><tspan font-size="5.3" dy="1.4">0</tspan><tspan dy="-1.4"> ≃  14 Gyr)</tspan></text>
<text transform="translate(22.8,207.5) rotate(-90)" font-family="DejaVu Sans, Liberation Sans, sans-serif" font-size="7.5" fill="#222" text-anchor="middle">Log (<tspan font-style="italic">R</tspan> = <tspan font-style="italic">aχ</tspan>)  in units of <tspan font-style="italic">c</tspan>/<tspan font-style="italic">H</tspan><tspan font-size="5.3" dy="1.4">0</tspan></text>
<text x="245.5" y="152.7" font-family="DejaVu Sans, Liberation Sans, sans-serif" font-size="8.85" fill="#3a9a2a">EMPTY OUTSIDE</text>
<text x="245.5" y="176.7" font-family="DejaVu Sans, Liberation Sans, sans-serif" font-size="8.85" fill="#3a9a2a">EMPTY INSIDE</text>
<text x="133.3" y="160.7" font-family="DejaVu Sans, Liberation Sans, sans-serif" font-size="8.95" fill="#111">⇐<tspan x="145.3">BLACK HOLE forms</tspan></text>
<text x="538" y="160.5" font-family="DejaVu Sans, Liberation Sans, sans-serif" font-size="8.95" fill="#111" text-anchor="end">Expansion halts  ⇒</text>
<text x="350" y="241.7" font-family="DejaVu Sans, Liberation Sans, sans-serif" font-size="8.85" fill="#1010f0">CAUSAL <tspan font-style="italic">δ</tspan><tspan font-size="6.2" font-style="italic" dy="1.6">k</tspan><tspan dy="-1.6"> EVOLUTION </tspan><tspan font-style="italic">R</tspan> &lt; <tspan font-style="italic">r</tspan><tspan font-size="6.2" font-style="italic" dy="1.6">H</tspan></text>
<text x="499.5" y="270" font-family="DejaVu Sans, Liberation Sans, sans-serif" font-size="8.4" fill="#111">now</text>
<text transform="translate(228.3,193.6) rotate(37.5)" font-family="DejaVu Sans, Liberation Sans, sans-serif" font-size="9" fill="#b833c8">FROZEN <tspan font-style="italic">δ</tspan><tspan font-size="6.3" font-style="italic" dy="1.6">k</tspan></text>
<text transform="translate(304.3,229.4) rotate(-38)" font-family="DejaVu Sans, Liberation Sans, sans-serif" font-size="7.25" font-weight="bold" fill="#be1e78">super horizon</text>
<circle cx="93" cy="210.3" r="4.3" fill="#000" stroke="#f2d21c" stroke-width="1.1"/>
<text x="101.3" y="213.2" font-family="Liberation Serif, DejaVu Serif, serif" font-size="9.4" fill="#111">DarkCosmos.com</text>
<rect x="62" y="221.7" width="123.5" height="48" rx="2" fill="#fff" fill-opacity="0.8" stroke="#cfcfcf" stroke-width="0.8"/>
<line x1="64.7" y1="228.8" x2="83" y2="228.8" stroke="#000" stroke-width="2.7"/>
<line x1="64.7" y1="244.6" x2="83" y2="244.6" stroke="#f21d12" stroke-width="2" stroke-dasharray="7.3 3.2"/>
<line x1="64.7" y1="260.6" x2="83" y2="260.6" stroke="#0a0af5" stroke-width="2.5" stroke-linecap="round" stroke-dasharray="0.3 6.1" stroke-dashoffset="-1.5"/>
<text x="90.6" y="231.9" font-family="DejaVu Sans, Liberation Sans, sans-serif" font-size="8.75" fill="#222"><tspan font-style="italic">r</tspan><tspan font-size="6.1" font-style="italic" dy="1.7">s</tspan><tspan dy="-1.7"> = </tspan><tspan font-style="italic">r</tspan><tspan font-size="6.1" dy="1.7">Λ</tspan></text>
<text x="90.6" y="247.8" font-family="DejaVu Sans, Liberation Sans, sans-serif" font-size="8.75" fill="#222"><tspan font-style="italic">R</tspan> = [<tspan font-style="italic">r</tspan><tspan font-size="6.1" dy="-3.3">2</tspan><tspan font-size="6.1" font-style="italic" dy="5" dx="-3.8">H</tspan><tspan font-style="italic" dy="-1.7">r</tspan><tspan font-size="6.1" font-style="italic" dy="1.7">S</tspan><tspan dy="-1.7">]</tspan><tspan font-size="6.1" dy="-3.3">1/3</tspan><tspan dy="3.3"> junction</tspan></text>
<text x="90.6" y="263.8" font-family="DejaVu Sans, Liberation Sans, sans-serif" font-size="8.75" fill="#222"><tspan font-style="italic">r</tspan><tspan font-size="6.1" font-style="italic" dy="1.7">H</tspan><tspan dy="-1.7"> = </tspan><tspan font-style="italic">c</tspan>/<tspan font-style="italic">H</tspan></text>
<text transform="translate(58.0,15.0) scale(1,1.14)" font-family="Liberation Serif, DejaVu Serif, serif" font-style="italic" font-size="11.5" fill="#111" stroke="#111" stroke-width="0.4"><tspan dy="0">r</tspan><tspan font-size="8.3" dy="2.2">H</tspan><tspan dy="-2.2"> &gt; R</tspan></text>
<text transform="translate(98.0,27.0) scale(1,1.14)" font-family="Liberation Serif, DejaVu Serif, serif" font-style="italic" font-size="11.8" fill="#111" stroke="#111" stroke-width="0.4"><tspan dy="0">r</tspan><tspan font-size="8.5" dy="2.2">H</tspan><tspan dy="-2.2"> = R = r</tspan><tspan font-size="8.5" dy="2.2">S</tspan></text>
<text transform="translate(213.0,27.0) scale(1,1.14)" font-family="Liberation Serif, DejaVu Serif, serif" font-style="italic" font-size="12" fill="#111" stroke="#111" stroke-width="0.15"><tspan dy="0">r</tspan><tspan font-size="8.6" dy="2.2">H</tspan><tspan dy="-2.2"> &lt; R &lt; r</tspan><tspan font-size="8.6" dy="2.2">S</tspan></text>
<text transform="translate(367.0,26.6) scale(1,1.14)" font-family="Liberation Serif, DejaVu Serif, serif" font-style="italic" font-size="11.6" fill="#111" stroke="#111" stroke-width="0.15"><tspan dy="0">r</tspan><tspan font-size="8.4" dy="2.2">S</tspan><tspan dy="-2.2"> &gt; R &gt; r</tspan><tspan font-size="8.4" dy="2.2">H</tspan></text>
<text x="152.5" y="114.6" font-family="DejaVu Serif, Liberation Serif, serif" font-style="italic" font-weight="bold" font-size="10.95" letter-spacing="0.12" fill="#e23a25" stroke="#e23a25" stroke-width="0.25">Big Crunch</text>
<text x="244.0" y="114.6" font-family="DejaVu Serif, Liberation Serif, serif" font-style="italic" font-weight="bold" font-size="10.95" letter-spacing="0.12" fill="#e23a25" stroke="#e23a25" stroke-width="0.25">Big Bounce</text>
<text x="334.4" y="114.6" font-family="DejaVu Serif, Liberation Serif, serif" font-style="italic" font-weight="bold" font-size="10.95" letter-spacing="0.12" fill="#e23a25" stroke="#e23a25" stroke-width="0.25">Big Bang</text>
<text x="45" y="137" font-family="DejaVu Serif, Liberation Serif, serif" font-style="italic" font-size="11.1" fill="#111" stroke="#111" stroke-width="0.15">M collapsing</text>
<text x="351" y="133" font-family="DejaVu Serif, Liberation Serif, serif" font-style="italic" font-size="11.2" fill="#111" stroke="#111" stroke-width="0.15">M expanding</text>
<text x="502" y="132.4" font-family="DejaVu Serif, Liberation Serif, serif" font-style="italic" font-size="11.5" fill="#111" stroke="#111" stroke-width="0.15" textLength="28.3" lengthAdjust="spacingAndGlyphs">Now</text>
<text x="251" y="130.7" font-family="Liberation Sans, sans-serif" font-weight="bold" font-size="10.7" fill="#000">time</text>
<line x1="215" y1="128.3" x2="242" y2="128.3" stroke="#000" stroke-width="2.6"/>
<line x1="278" y1="128.3" x2="330" y2="128.3" stroke="#000" stroke-width="2.6"/>
<path d="M338.2,128.3 L328,123.4 L328,133.2 Z" fill="#000"/>
<line x1="121.5" y1="115.0" x2="121.5" y2="151.5" stroke="#000" stroke-width="1.3"/>
<path d="M121.5,155.5 l-2.6,-6.2 l5.2,0 Z" fill="#000"/>
<line x1="498.4" y1="111.0" x2="498.4" y2="146.5" stroke="#000" stroke-width="1.3"/>
<path d="M498.4,150.5 l-2.6,-6.2 l5.2,0 Z" fill="#000"/>
<defs><clipPath id="c1clip"><rect x="6" y="0" width="100" height="140"/></clipPath></defs>
<g clip-path="url(#c1clip)">
<circle cx="22.8" cy="67.6" r="53.2" fill="#98f1e7" stroke="#111" stroke-width="0.9"/>
<circle cx="14.1" cy="85.0" r="0.66" fill="#111"/>
<circle cx="55.7" cy="83.7" r="0.55" fill="#111"/>
<circle cx="56.1" cy="80.3" r="0.41" fill="#111"/>
<circle cx="10.7" cy="73.0" r="0.44" fill="#111"/>
<circle cx="-17.6" cy="88.4" r="0.45" fill="#111"/>
<circle cx="29.4" cy="106.6" r="0.78" fill="#111"/>
<circle cx="-5.1" cy="52.9" r="0.79" fill="#111"/>
<circle cx="67.2" cy="81.0" r="0.52" fill="#111"/>
<circle cx="33.4" cy="81.1" r="0.52" fill="#111"/>
<circle cx="31.4" cy="48.2" r="0.63" fill="#111"/>
<circle cx="3.2" cy="44.2" r="0.62" fill="#111"/>
<circle cx="34.1" cy="72.3" r="0.48" fill="#111"/>
<circle cx="9.0" cy="38.0" r="0.53" fill="#111"/>
<circle cx="-6.1" cy="50.4" r="0.52" fill="#111"/>
<circle cx="34.3" cy="27.4" r="0.50" fill="#111"/>
<circle cx="-9.5" cy="51.3" r="0.75" fill="#111"/>
<circle cx="19.3" cy="41.0" r="0.79" fill="#111"/>
<circle cx="46.6" cy="89.4" r="0.70" fill="#111"/>
<circle cx="43.0" cy="96.1" r="0.42" fill="#111"/>
<circle cx="1.3" cy="29.5" r="0.63" fill="#111"/>
<circle cx="42.7" cy="47.9" r="0.68" fill="#111"/>
<circle cx="-8.8" cy="46.3" r="0.58" fill="#111"/>
<circle cx="48.8" cy="26.6" r="0.59" fill="#111"/>
<circle cx="16.5" cy="57.0" r="0.68" fill="#111"/>
<circle cx="-7.2" cy="27.8" r="0.73" fill="#111"/>
<circle cx="16.1" cy="97.9" r="0.67" fill="#111"/>
<circle cx="56.4" cy="72.4" r="0.47" fill="#111"/>
<circle cx="31.8" cy="75.7" r="0.71" fill="#111"/>
<circle cx="39.9" cy="85.7" r="0.56" fill="#111"/>
<circle cx="32.6" cy="57.3" r="0.58" fill="#111"/>
<circle cx="-21.9" cy="53.2" r="0.73" fill="#111"/>
<circle cx="40.1" cy="47.7" r="0.57" fill="#111"/>
<circle cx="-6.9" cy="104.1" r="0.78" fill="#111"/>
<circle cx="35.0" cy="84.7" r="0.49" fill="#111"/>
<circle cx="26.4" cy="102.2" r="0.64" fill="#111"/>
<circle cx="22.5" cy="70.8" r="0.57" fill="#111"/>
<circle cx="-2.8" cy="95.2" r="0.78" fill="#111"/>
<circle cx="9.7" cy="34.2" r="0.65" fill="#111"/>
<circle cx="17.6" cy="57.2" r="0.76" fill="#111"/>
<circle cx="31.6" cy="21.7" r="0.72" fill="#111"/>
<circle cx="-1.8" cy="87.4" r="0.44" fill="#111"/>
<circle cx="14.5" cy="58.3" r="0.43" fill="#111"/>
<circle cx="28.0" cy="87.1" r="0.54" fill="#111"/>
<circle cx="23.5" cy="67.8" r="0.46" fill="#111"/>
<circle cx="47.0" cy="85.5" r="0.41" fill="#111"/>
<circle cx="50.4" cy="39.8" r="0.46" fill="#111"/>
<circle cx="22.4" cy="97.1" r="0.55" fill="#111"/>
<circle cx="55.8" cy="99.7" r="0.80" fill="#111"/>
<circle cx="-11.2" cy="75.0" r="0.43" fill="#111"/>
<circle cx="46.2" cy="85.1" r="0.51" fill="#111"/>
<circle cx="32.4" cy="49.9" r="0.41" fill="#111"/>
<circle cx="57.4" cy="56.6" r="0.46" fill="#111"/>
<circle cx="14.9" cy="65.4" r="0.61" fill="#111"/>
<circle cx="68.8" cy="61.3" r="0.68" fill="#111"/>
<circle cx="20.7" cy="97.8" r="0.47" fill="#111"/>
<circle cx="27.8" cy="31.5" r="0.71" fill="#111"/>
<circle cx="11.5" cy="88.3" r="0.72" fill="#111"/>
<circle cx="68.8" cy="63.2" r="0.72" fill="#111"/>
<circle cx="40.7" cy="28.5" r="0.49" fill="#111"/>
<circle cx="-6.8" cy="64.3" r="0.41" fill="#111"/>
<circle cx="48.8" cy="72.2" r="0.50" fill="#111"/>
<circle cx="5.5" cy="21.9" r="0.58" fill="#111"/>
<circle cx="68.7" cy="48.4" r="0.78" fill="#111"/>
<circle cx="7.3" cy="85.2" r="0.49" fill="#111"/>
<circle cx="30.2" cy="88.9" r="0.65" fill="#111"/>
<circle cx="59.9" cy="40.7" r="0.59" fill="#111"/>
<circle cx="-2.8" cy="30.9" r="0.43" fill="#111"/>
<circle cx="-2.6" cy="27.2" r="0.71" fill="#111"/>
<circle cx="22.8" cy="33.0" r="0.47" fill="#111"/>
<circle cx="29.8" cy="39.6" r="0.72" fill="#111"/>
<circle cx="53.8" cy="62.0" r="0.56" fill="#111"/>
<circle cx="63.0" cy="53.6" r="0.47" fill="#111"/>
<circle cx="36.4" cy="81.5" r="0.76" fill="#111"/>
<circle cx="29.4" cy="49.7" r="0.73" fill="#111"/>
<circle cx="63.0" cy="62.6" r="0.54" fill="#111"/>
<circle cx="11.5" cy="57.3" r="2.00" fill="none" stroke="#111" stroke-width="0.8"/>
<circle cx="11.5" cy="57.3" r="0.55" fill="#111"/>
<circle cx="28.3" cy="55.5" r="2.50" fill="none" stroke="#111" stroke-width="0.8"/>
<circle cx="28.3" cy="55.5" r="0.55" fill="#111"/>
<circle cx="55.9" cy="65.3" r="1.80" fill="none" stroke="#111" stroke-width="0.8"/>
<circle cx="55.9" cy="65.3" r="0.55" fill="#111"/>
<circle cx="47.9" cy="72.5" r="2.50" fill="none" stroke="#111" stroke-width="0.8"/>
<circle cx="47.9" cy="72.5" r="0.55" fill="#111"/>
<circle cx="35.5" cy="77.6" r="2.50" fill="none" stroke="#111" stroke-width="0.8"/>
<circle cx="35.5" cy="77.6" r="0.55" fill="#111"/>
<circle cx="67.3" cy="76.2" r="2.30" fill="none" stroke="#111" stroke-width="0.8"/>
<circle cx="67.3" cy="76.2" r="0.55" fill="#111"/>
<circle cx="11.5" cy="71.8" r="1.50" fill="none" stroke="#111" stroke-width="0.8"/>
<circle cx="11.5" cy="71.8" r="0.55" fill="#111"/>
<circle cx="11.5" cy="79.8" r="2.00" fill="none" stroke="#111" stroke-width="0.8"/>
<circle cx="11.5" cy="79.8" r="0.55" fill="#111"/>
<circle cx="44.3" cy="28.2" r="3.60" fill="none" stroke="#111" stroke-width="0.8"/>
<circle cx="44.3" cy="28.2" r="0.55" fill="#111"/>
<circle cx="39.9" cy="38.4" r="2.50" fill="none" stroke="#111" stroke-width="0.8"/>
<circle cx="39.9" cy="38.4" r="0.55" fill="#111"/>
<circle cx="31.9" cy="22.4" r="1.30" fill="none" stroke="#111" stroke-width="0.8"/>
<circle cx="31.9" cy="22.4" r="0.55" fill="#111"/>
<circle cx="26.0" cy="33.3" r="1.50" fill="none" stroke="#111" stroke-width="0.8"/>
<circle cx="26.0" cy="33.3" r="0.55" fill="#111"/>
<circle cx="30.9" cy="100.5" r="2.30" fill="none" stroke="#111" stroke-width="0.8"/>
<circle cx="30.9" cy="100.5" r="0.55" fill="#111"/>
<circle cx="37.7" cy="102.8" r="1.80" fill="none" stroke="#111" stroke-width="0.8"/>
<circle cx="37.7" cy="102.8" r="0.55" fill="#111"/>
<circle cx="46.5" cy="112.5" r="1.80" fill="none" stroke="#111" stroke-width="0.8"/>
<circle cx="46.5" cy="112.5" r="0.55" fill="#111"/>
<circle cx="22.7" cy="112.5" r="1.50" fill="none" stroke="#111" stroke-width="0.8"/>
<circle cx="22.7" cy="112.5" r="0.55" fill="#111"/>
<circle cx="60.0" cy="92.0" r="1.60" fill="none" stroke="#111" stroke-width="0.8"/>
<circle cx="60.0" cy="92.0" r="0.55" fill="#111"/>
<circle cx="52.0" cy="84.0" r="1.40" fill="none" stroke="#111" stroke-width="0.8"/>
<circle cx="52.0" cy="84.0" r="0.55" fill="#111"/>
<circle cx="20.0" cy="45.0" r="1.60" fill="none" stroke="#111" stroke-width="0.8"/>
<circle cx="20.0" cy="45.0" r="0.55" fill="#111"/>
<circle cx="36.0" cy="62.0" r="1.30" fill="none" stroke="#111" stroke-width="0.8"/>
<circle cx="36.0" cy="62.0" r="0.55" fill="#111"/>
<circle cx="18.1" cy="76.6" r="1.0" fill="#111"/>
<circle cx="25.4" cy="74.7" r="0.9" fill="#111"/>
<circle cx="42" cy="60" r="0.8" fill="#111"/>
<circle cx="30" cy="88" r="0.9" fill="#111"/>
<circle cx="58" cy="58" r="0.8" fill="#111"/>
<circle cx="15" cy="40" r="0.8" fill="#111"/>
<circle cx="49" cy="100" r="0.9" fill="#111"/>
<circle cx="11.5" cy="98.5" r="9.00" fill="none" stroke="#111" stroke-width="0.8"/>
<circle cx="8.5" cy="95.5" r="2.00" fill="none" stroke="#111" stroke-width="0.7"/>
<circle cx="8.5" cy="95.5" r="0.55" fill="#111"/>
<circle cx="15.0" cy="99.5" r="1.80" fill="none" stroke="#111" stroke-width="0.7"/>
<circle cx="15.0" cy="99.5" r="0.55" fill="#111"/>
<circle cx="7.5" cy="102.5" r="1.50" fill="none" stroke="#111" stroke-width="0.7"/>
<circle cx="7.5" cy="102.5" r="0.55" fill="#111"/>
<circle cx="12.5" cy="93.5" r="0.70" fill="#111"/>
<circle cx="15.5" cy="95.5" r="0.60" fill="#111"/>
<circle cx="10.5" cy="99.5" r="0.60" fill="#111"/>
<circle cx="13.5" cy="103.5" r="0.70" fill="#111"/>
<circle cx="5.5" cy="98.5" r="0.50" fill="#111"/>
<circle cx="56.6" cy="47.1" r="8.00" fill="none" stroke="#111" stroke-width="0.8"/>
<circle cx="53.1" cy="50.1" r="2.00" fill="none" stroke="#111" stroke-width="0.7"/>
<circle cx="53.1" cy="50.1" r="0.55" fill="#111"/>
<circle cx="60.1" cy="49.1" r="1.60" fill="none" stroke="#111" stroke-width="0.7"/>
<circle cx="60.1" cy="49.1" r="0.55" fill="#111"/>
<circle cx="58.6" cy="43.6" r="0.90" fill="#111"/>
<circle cx="54.6" cy="44.1" r="0.60" fill="#111"/>
<circle cx="56.6" cy="47.6" r="0.60" fill="#111"/>
<circle cx="61.1" cy="45.6" r="0.60" fill="#111"/>
<circle cx="51.6" cy="46.1" r="0.50" fill="#111"/>
<circle cx="62.6" cy="51.1" r="0.90" fill="#111"/>
<circle cx="10.0" cy="25.3" r="6.50" fill="none" stroke="#111" stroke-width="0.8"/>
<circle cx="8.0" cy="24.3" r="1.60" fill="none" stroke="#111" stroke-width="0.7"/>
<circle cx="8.0" cy="24.3" r="0.55" fill="#111"/>
<circle cx="12.5" cy="27.3" r="1.30" fill="none" stroke="#111" stroke-width="0.7"/>
<circle cx="12.5" cy="27.3" r="0.55" fill="#111"/>
<circle cx="11.0" cy="22.3" r="0.60" fill="#111"/>
<circle cx="7.5" cy="28.3" r="0.60" fill="#111"/>
<circle cx="13.5" cy="24.3" r="0.50" fill="#111"/>
<circle cx="21.8" cy="69.8" r="53.8" fill="none" stroke="#e2402b" stroke-width="2.5" stroke-dasharray="8 3.4"/>
<circle cx="21.6" cy="69.0" r="60.8" fill="none" stroke="#1c66be" stroke-width="3.1" stroke-dasharray="3 3.2"/>
<line x1="23.20" y1="15.50" x2="23.40" y2="25.50" stroke="#e2402b" stroke-width="2.2"/>
<path d="M23.60,35.50 L16.89,25.13 L29.89,24.87 Z" fill="#e2402b"/>
<line x1="77.00" y1="68.10" x2="66.90" y2="68.15" stroke="#e2402b" stroke-width="2.2"/>
<path d="M57.40,68.20 L67.37,61.65 L67.43,74.65 Z" fill="#e2402b"/>
<line x1="22.70" y1="123.00" x2="22.70" y2="113.50" stroke="#e2402b" stroke-width="2.2"/>
<path d="M22.70,103.80 L29.20,114.00 L16.20,114.00 Z" fill="#e2402b"/>
<line x1="63.50" y1="27.00" x2="40.97" y2="48.42" stroke="#2e72c6" stroke-width="1.9"/>
<path d="M33.00,56.00 L37.54,44.09 L45.12,52.06 Z" fill="#2e72c6"/>
<line x1="66.80" y1="111.80" x2="43.84" y2="89.21" stroke="#2e72c6" stroke-width="1.9"/>
<path d="M36.00,81.50 L48.06,85.64 L40.34,93.49 Z" fill="#2e72c6"/>
<line x1="64.8" y1="113.8" x2="68.8" y2="109.8" stroke="#2e72c6" stroke-width="1.6"/>
<line x1="7" y1="44" x2="7" y2="56" stroke="#2e72c6" stroke-width="2"/>
<line x1="7" y1="80" x2="7" y2="92" stroke="#2e72c6" stroke-width="2"/>
</g>
<circle cx="124.7" cy="70.2" r="34.3" fill="#98f1e7" stroke="#111" stroke-width="0.9"/>
<circle cx="113.5" cy="66.7" r="0.41" fill="#111"/>
<circle cx="150.5" cy="65.4" r="0.61" fill="#111"/>
<circle cx="144.3" cy="61.5" r="0.75" fill="#111"/>
<circle cx="131.6" cy="56.9" r="0.50" fill="#111"/>
<circle cx="120.4" cy="85.6" r="0.63" fill="#111"/>
<circle cx="123.5" cy="91.2" r="0.45" fill="#111"/>
<circle cx="141.0" cy="59.8" r="0.58" fill="#111"/>
<circle cx="97.9" cy="54.7" r="0.57" fill="#111"/>
<circle cx="144.7" cy="58.8" r="0.61" fill="#111"/>
<circle cx="120.3" cy="69.5" r="0.58" fill="#111"/>
<circle cx="125.5" cy="72.1" r="0.72" fill="#111"/>
<circle cx="135.2" cy="90.0" r="0.69" fill="#111"/>
<circle cx="107.3" cy="63.8" r="0.61" fill="#111"/>
<circle cx="97.6" cy="60.4" r="0.44" fill="#111"/>
<circle cx="109.6" cy="64.2" r="0.51" fill="#111"/>
<circle cx="127.9" cy="47.3" r="0.62" fill="#111"/>
<circle cx="126.6" cy="39.2" r="0.58" fill="#111"/>
<circle cx="107.1" cy="55.2" r="0.60" fill="#111"/>
<circle cx="117.0" cy="49.7" r="0.61" fill="#111"/>
<circle cx="93.5" cy="74.5" r="0.68" fill="#111"/>
<circle cx="147.2" cy="48.1" r="0.50" fill="#111"/>
<circle cx="95.3" cy="58.7" r="0.74" fill="#111"/>
<circle cx="132.1" cy="78.8" r="0.58" fill="#111"/>
<circle cx="139.0" cy="77.2" r="0.43" fill="#111"/>
<circle cx="110.8" cy="45.0" r="0.76" fill="#111"/>
<circle cx="140.2" cy="92.9" r="0.66" fill="#111"/>
<circle cx="143.7" cy="94.1" r="0.79" fill="#111"/>
<circle cx="130.7" cy="101.3" r="0.56" fill="#111"/>
<circle cx="92.5" cy="72.8" r="0.73" fill="#111"/>
<circle cx="136.0" cy="88.3" r="0.61" fill="#111"/>
<circle cx="117.1" cy="82.4" r="0.53" fill="#111"/>
<circle cx="123.9" cy="65.7" r="0.62" fill="#111"/>
<circle cx="120.6" cy="71.8" r="0.53" fill="#111"/>
<circle cx="108.1" cy="53.9" r="0.43" fill="#111"/>
<circle cx="153.4" cy="67.5" r="0.79" fill="#111"/>
<circle cx="137.9" cy="80.4" r="0.42" fill="#111"/>
<circle cx="127.8" cy="53.6" r="0.45" fill="#111"/>
<circle cx="97.3" cy="84.8" r="0.73" fill="#111"/>
<circle cx="124.0" cy="82.7" r="0.77" fill="#111"/>
<circle cx="100.1" cy="58.5" r="0.44" fill="#111"/>
<circle cx="149.9" cy="79.7" r="0.57" fill="#111"/>
<circle cx="153.0" cy="84.0" r="0.65" fill="#111"/>
<circle cx="127.7" cy="61.3" r="0.74" fill="#111"/>
<circle cx="152.3" cy="82.5" r="0.58" fill="#111"/>
<circle cx="111.9" cy="90.7" r="0.77" fill="#111"/>
<circle cx="123.4" cy="81.8" r="0.61" fill="#111"/>
<circle cx="125.5" cy="80.9" r="0.46" fill="#111"/>
<circle cx="138.6" cy="74.7" r="0.52" fill="#111"/>
<circle cx="115.1" cy="96.8" r="0.52" fill="#111"/>
<circle cx="111.0" cy="70.2" r="0.54" fill="#111"/>
<circle cx="140.9" cy="72.1" r="0.41" fill="#111"/>
<circle cx="122.1" cy="46.2" r="0.48" fill="#111"/>
<circle cx="93.7" cy="75.2" r="0.44" fill="#111"/>
<circle cx="133.7" cy="50.8" r="0.60" fill="#111"/>
<circle cx="135.0" cy="52.6" r="0.60" fill="#111"/>
<circle cx="112.4" cy="40.4" r="0.54" fill="#111"/>
<circle cx="138.2" cy="46.4" r="0.65" fill="#111"/>
<circle cx="108.9" cy="81.0" r="0.42" fill="#111"/>
<circle cx="130.6" cy="76.5" r="0.70" fill="#111"/>
<circle cx="124.2" cy="83.3" r="0.43" fill="#111"/>
<circle cx="141.2" cy="44.7" r="0.67" fill="#111"/>
<circle cx="121.5" cy="85.9" r="0.52" fill="#111"/>
<circle cx="112.2" cy="73.5" r="0.58" fill="#111"/>
<circle cx="122.1" cy="102.0" r="0.79" fill="#111"/>
<circle cx="109.3" cy="65.5" r="0.79" fill="#111"/>
<circle cx="117.6" cy="88.3" r="0.40" fill="#111"/>
<circle cx="108.2" cy="85.4" r="0.60" fill="#111"/>
<circle cx="131.7" cy="92.2" r="0.40" fill="#111"/>
<circle cx="123.8" cy="79.9" r="0.56" fill="#111"/>
<circle cx="129.4" cy="71.5" r="0.52" fill="#111"/>
<circle cx="138.1" cy="43.8" r="2.50" fill="none" stroke="#111" stroke-width="0.8"/>
<circle cx="138.1" cy="43.8" r="0.55" fill="#111"/>
<circle cx="105.1" cy="50.4" r="1.80" fill="none" stroke="#111" stroke-width="0.8"/>
<circle cx="105.1" cy="50.4" r="0.55" fill="#111"/>
<circle cx="135.6" cy="50.4" r="1.80" fill="none" stroke="#111" stroke-width="0.8"/>
<circle cx="135.6" cy="50.4" r="0.55" fill="#111"/>
<circle cx="127.9" cy="61.3" r="1.60" fill="none" stroke="#111" stroke-width="0.8"/>
<circle cx="127.9" cy="61.3" r="0.55" fill="#111"/>
<circle cx="117.5" cy="62.7" r="1.30" fill="none" stroke="#111" stroke-width="0.8"/>
<circle cx="117.5" cy="62.7" r="0.55" fill="#111"/>
<circle cx="96.0" cy="76.0" r="3.30" fill="none" stroke="#111" stroke-width="0.8"/>
<circle cx="100.0" cy="87.0" r="1.50" fill="none" stroke="#111" stroke-width="0.8"/>
<circle cx="100.0" cy="87.0" r="0.55" fill="#111"/>
<circle cx="133.0" cy="76.0" r="1.50" fill="none" stroke="#111" stroke-width="0.8"/>
<circle cx="133.0" cy="76.0" r="0.55" fill="#111"/>
<circle cx="140.0" cy="73.0" r="1.50" fill="none" stroke="#111" stroke-width="0.8"/>
<circle cx="140.0" cy="73.0" r="0.55" fill="#111"/>
<circle cx="129.0" cy="91.0" r="1.60" fill="none" stroke="#111" stroke-width="0.8"/>
<circle cx="129.0" cy="91.0" r="0.55" fill="#111"/>
<circle cx="140.0" cy="98.0" r="1.50" fill="none" stroke="#111" stroke-width="0.8"/>
<circle cx="140.0" cy="98.0" r="0.55" fill="#111"/>
<circle cx="134.0" cy="92.0" r="1.30" fill="none" stroke="#111" stroke-width="0.8"/>
<circle cx="134.0" cy="92.0" r="0.55" fill="#111"/>
<circle cx="147.0" cy="88.0" r="1.20" fill="none" stroke="#111" stroke-width="0.8"/>
<circle cx="147.0" cy="88.0" r="0.55" fill="#111"/>
<circle cx="105.0" cy="72.0" r="1.50" fill="none" stroke="#111" stroke-width="0.8"/>
<circle cx="105.0" cy="72.0" r="0.55" fill="#111"/>
<circle cx="112.0" cy="78.0" r="1.30" fill="none" stroke="#111" stroke-width="0.8"/>
<circle cx="112.0" cy="78.0" r="0.55" fill="#111"/>
<circle cx="150.0" cy="78.0" r="1.40" fill="none" stroke="#111" stroke-width="0.8"/>
<circle cx="150.0" cy="78.0" r="0.55" fill="#111"/>
<circle cx="121.0" cy="99.0" r="1.30" fill="none" stroke="#111" stroke-width="0.8"/>
<circle cx="121.0" cy="99.0" r="0.55" fill="#111"/>
<circle cx="94.9" cy="55.9" r="1.1" fill="#111"/>
<circle cx="130.5" cy="39.5" r="0.9" fill="#111"/>
<circle cx="145.8" cy="67.5" r="1.0" fill="#111"/>
<circle cx="110" cy="66" r="0.8" fill="#111"/>
<circle cx="122" cy="83" r="0.8" fill="#111"/>
<circle cx="143" cy="82" r="0.8" fill="#111"/>
<circle cx="115.7" cy="42.4" r="4.40" fill="none" stroke="#111" stroke-width="0.8"/>
<circle cx="114.7" cy="42.9" r="1.60" fill="none" stroke="#111" stroke-width="0.7"/>
<circle cx="114.7" cy="42.9" r="0.55" fill="#111"/>
<circle cx="117.5" cy="40.9" r="0.60" fill="#111"/>
<circle cx="117.2" cy="44.4" r="0.60" fill="#111"/>
<circle cx="108.4" cy="57.6" r="3.60" fill="none" stroke="#111" stroke-width="0.8"/>
<circle cx="108.7" cy="57.6" r="1.40" fill="none" stroke="#111" stroke-width="0.7"/>
<circle cx="108.7" cy="57.6" r="0.55" fill="#111"/>
<circle cx="106.9" cy="59.1" r="0.50" fill="#111"/>
<circle cx="146.8" cy="57.6" r="5.50" fill="none" stroke="#111" stroke-width="0.8"/>
<circle cx="144.8" cy="57.1" r="1.50" fill="none" stroke="#111" stroke-width="0.7"/>
<circle cx="144.8" cy="57.1" r="0.55" fill="#111"/>
<circle cx="149.0" cy="56.1" r="0.90" fill="#111"/>
<circle cx="147.3" cy="60.1" r="0.60" fill="#111"/>
<circle cx="144.8" cy="60.4" r="0.50" fill="#111"/>
<circle cx="149.6" cy="59.4" r="0.50" fill="#111"/>
<circle cx="117.0" cy="89.0" r="5.50" fill="none" stroke="#111" stroke-width="0.8"/>
<circle cx="116.0" cy="90.5" r="1.70" fill="none" stroke="#111" stroke-width="0.7"/>
<circle cx="116.0" cy="90.5" r="0.55" fill="#111"/>
<circle cx="119.0" cy="87.5" r="0.70" fill="#111"/>
<circle cx="115.0" cy="87.0" r="0.60" fill="#111"/>
<circle cx="119.5" cy="91.0" r="0.50" fill="#111"/>
<circle cx="117.0" cy="85.5" r="0.50" fill="#111"/>
<circle cx="124.7" cy="70.2" r="34.9" fill="none" stroke="#e2402b" stroke-width="2.4" stroke-dasharray="7 3"/>
<line x1="126.20" y1="35.50" x2="126.20" y2="42.70" stroke="#e2402b" stroke-width="2.2"/>
<path d="M126.20,49.80 L119.90,42.20 L132.50,42.20 Z" fill="#e2402b"/>
<line x1="89.80" y1="68.10" x2="96.70" y2="68.10" stroke="#e2402b" stroke-width="2.2"/>
<path d="M104.60,68.10 L96.20,74.40 L96.20,61.80 Z" fill="#e2402b"/>
<line x1="159.60" y1="68.50" x2="154.90" y2="68.50" stroke="#e2402b" stroke-width="2.2"/>
<path d="M147.20,68.50 L155.40,62.20 L155.40,74.80 Z" fill="#e2402b"/>
<line x1="125.00" y1="105.00" x2="125.00" y2="98.70" stroke="#e2402b" stroke-width="2.2"/>
<path d="M125.00,91.00 L131.30,99.20 L118.70,99.20 Z" fill="#e2402b"/>
<circle cx="205.4" cy="68.6" r="35.4" fill="#fff" stroke="#000" stroke-width="2"/>
<circle cx="204.9" cy="69.3" r="24" fill="#faf3be"/>
<circle cx="199.6" cy="50.5" r="2.5" fill="#efe08a" stroke="#8a8560" stroke-width="0.5"/>
<circle cx="221" cy="60.7" r="3.2" fill="#efe08a" stroke="#8a8560" stroke-width="0.5"/>
<circle cx="194" cy="60.7" r="2" fill="#efe08a" stroke="#8a8560" stroke-width="0.5"/>
<circle cx="186" cy="74.4" r="2" fill="#efe08a" stroke="#8a8560" stroke-width="0.5"/>
<circle cx="200" cy="83.8" r="3" fill="#efe08a" stroke="#8a8560" stroke-width="0.5"/>
<circle cx="221" cy="64.5" r="2.6" fill="#efe08a" stroke="#8a8560" stroke-width="0.5"/>
<circle cx="214.5" cy="51.3" r="1.8" fill="#efe08a" stroke="#8a8560" stroke-width="0.5"/>
<circle cx="190" cy="80" r="1.3" fill="#efe08a" stroke="#8a8560" stroke-width="0.5"/>
<circle cx="212" cy="86" r="1.4" fill="#efe08a" stroke="#8a8560" stroke-width="0.5"/>
<circle cx="224" cy="74" r="1.3" fill="#efe08a" stroke="#8a8560" stroke-width="0.5"/>
<circle cx="196" cy="55" r="1.2" fill="#efe08a" stroke="#8a8560" stroke-width="0.5"/>
<circle cx="214.5" cy="51.3" r="1.0" fill="#000"/>
<circle cx="220" cy="57.5" r="1.2" fill="#000"/>
<circle cx="194.8" cy="84.1" r="1.0" fill="#000"/>
<circle cx="220.3" cy="81" r="1.0" fill="#000"/>
<circle cx="207.0" cy="88.3" r="0.41" fill="#6b6640"/>
<circle cx="205.0" cy="49.7" r="0.44" fill="#6b6640"/>
<circle cx="217.6" cy="57.2" r="0.37" fill="#6b6640"/>
<circle cx="220.3" cy="67.8" r="0.44" fill="#6b6640"/>
<circle cx="195.9" cy="58.0" r="0.47" fill="#6b6640"/>
<circle cx="220.0" cy="57.1" r="0.45" fill="#6b6640"/>
<circle cx="210.8" cy="55.1" r="0.40" fill="#6b6640"/>
<circle cx="184.0" cy="68.7" r="0.46" fill="#6b6640"/>
<circle cx="213.7" cy="52.4" r="0.48" fill="#6b6640"/>
<circle cx="196.8" cy="51.2" r="0.35" fill="#6b6640"/>
<circle cx="204.9" cy="69.3" r="24" fill="none" stroke="#e2402b" stroke-width="2.5" stroke-dasharray="5.6 2.8"/>
<circle cx="205.6" cy="69" r="12.2" fill="#98f1e7" stroke="#1c66be" stroke-width="2.2" stroke-dasharray="2.1 2.15"/>
<line x1="217.62" y1="81.02" x2="211.75" y2="75.15" stroke="#2e72c6" stroke-width="1.1"/>
<path d="M207.86,71.26 L214.23,73.38 L209.98,77.63 Z" fill="#2e72c6"/>
<line x1="193.58" y1="81.02" x2="199.45" y2="75.15" stroke="#2e72c6" stroke-width="1.1"/>
<path d="M203.34,71.26 L201.22,77.63 L196.97,73.38 Z" fill="#2e72c6"/>
<line x1="193.58" y1="56.98" x2="199.45" y2="62.85" stroke="#2e72c6" stroke-width="1.1"/>
<path d="M203.34,66.74 L196.97,64.62 L201.22,60.37 Z" fill="#2e72c6"/>
<line x1="217.62" y1="56.98" x2="211.75" y2="62.85" stroke="#2e72c6" stroke-width="1.1"/>
<path d="M207.86,66.74 L209.98,60.37 L214.23,64.62 Z" fill="#2e72c6"/>
<line x1="206.30" y1="42.50" x2="206.36" y2="49.90" stroke="#e2402b" stroke-width="1.2"/>
<path d="M206.40,54.90 L203.11,49.43 L209.61,49.37 Z" fill="#e2402b"/>
<line x1="180.70" y1="67.40" x2="185.60" y2="67.40" stroke="#e2402b" stroke-width="1.2"/>
<path d="M190.60,67.40 L185.10,70.65 L185.10,64.15 Z" fill="#e2402b"/>
<line x1="229.50" y1="67.50" x2="225.20" y2="67.50" stroke="#e2402b" stroke-width="1.2"/>
<path d="M220.20,67.50 L225.70,64.25 L225.70,70.75 Z" fill="#e2402b"/>
<line x1="205.40" y1="93.50" x2="205.40" y2="88.00" stroke="#e2402b" stroke-width="1.2"/>
<path d="M205.40,83.00 L208.65,88.50 L202.15,88.50 Z" fill="#e2402b"/>
<circle cx="282.9" cy="67.2" r="35.3" fill="#fff" stroke="#000" stroke-width="2"/>
<line x1="296.48" y1="80.38" x2="290.82" y2="74.72" stroke="#2e72c6" stroke-width="1.3"/>
<path d="M283.75,67.65 L295.07,71.19 L287.29,78.97 Z" fill="#2e72c6"/>
<line x1="270.32" y1="80.38" x2="275.98" y2="74.72" stroke="#2e72c6" stroke-width="1.3"/>
<path d="M283.05,67.65 L279.51,78.97 L271.73,71.19 Z" fill="#2e72c6"/>
<line x1="270.32" y1="54.22" x2="275.98" y2="59.88" stroke="#2e72c6" stroke-width="1.3"/>
<path d="M283.05,66.95 L271.73,63.41 L279.51,55.63 Z" fill="#2e72c6"/>
<line x1="296.48" y1="54.22" x2="290.82" y2="59.88" stroke="#2e72c6" stroke-width="1.3"/>
<path d="M283.75,66.95 L287.29,55.63 L295.07,63.41 Z" fill="#2e72c6"/>
<circle cx="283.4" cy="67.3" r="5.2" fill="#2e72c6"/>
<line x1="286.40" y1="67.30" x2="296.90" y2="67.30" stroke="#e2402b" stroke-width="1.6"/>
<path d="M304.90,67.30 L296.40,72.55 L296.40,62.05 Z" fill="#e2402b"/>
<line x1="283.40" y1="70.30" x2="283.40" y2="80.80" stroke="#e2402b" stroke-width="1.6"/>
<path d="M283.40,88.80 L278.15,80.30 L288.65,80.30 Z" fill="#e2402b"/>
<line x1="280.40" y1="67.30" x2="269.90" y2="67.30" stroke="#e2402b" stroke-width="1.6"/>
<path d="M261.90,67.30 L270.40,62.05 L270.40,72.55 Z" fill="#e2402b"/>
<line x1="283.40" y1="64.30" x2="283.40" y2="53.80" stroke="#e2402b" stroke-width="1.6"/>
<path d="M283.40,45.80 L288.65,54.30 L278.15,54.30 Z" fill="#e2402b"/>
<circle cx="283.9" cy="67.0" r="1" fill="#222"/>
<circle cx="357.3" cy="67.8" r="35.4" fill="#fff" stroke="#000" stroke-width="2"/>
<circle cx="357" cy="68.4" r="19" fill="#f1edd0" stroke="#e2402b" stroke-width="2.2" stroke-dasharray="4.6 2.5"/>
<circle cx="356" cy="68.4" r="7.8" fill="#98f1e7" stroke="#1c66be" stroke-width="2.1" stroke-dasharray="2.0 2.1"/>
<circle cx="352" cy="53.3" r="1.0" fill="#111"/>
<circle cx="363.8" cy="65.5" r="1.0" fill="#111"/>
<circle cx="355.7" cy="72" r="1.0" fill="#111"/>
<circle cx="374.5" cy="72.8" r="1.0" fill="#111"/>
<circle cx="354.3" cy="85.3" r="1.0" fill="#111"/>
<line x1="350.50" y1="62.50" x2="340.50" y2="50.90" stroke="#2e72c6" stroke-width="1.7"/>
<path d="M334.30,43.70 L344.62,48.01 L337.04,54.54 Z" fill="#2e72c6"/>
<line x1="362.00" y1="62.50" x2="374.41" y2="50.35" stroke="#2e72c6" stroke-width="1.7"/>
<path d="M381.20,43.70 L377.55,54.27 L370.56,47.12 Z" fill="#2e72c6"/>
<line x1="350.50" y1="74.50" x2="341.83" y2="84.21" stroke="#2e72c6" stroke-width="1.7"/>
<path d="M335.50,91.30 L338.43,80.51 L345.89,87.17 Z" fill="#2e72c6"/>
<line x1="362.50" y1="74.50" x2="374.89" y2="85.50" stroke="#2e72c6" stroke-width="1.7"/>
<path d="M382.00,91.80 L371.20,88.90 L377.84,81.42 Z" fill="#2e72c6"/>
<line x1="357.00" y1="50.00" x2="357.00" y2="41.30" stroke="#e2402b" stroke-width="1.6" stroke-dasharray="3.5 1.2"/>
<path d="M357.00,33.50 L362.30,41.80 L351.70,41.80 Z" fill="#e2402b"/>
<line x1="376.00" y1="67.80" x2="382.40" y2="67.80" stroke="#e2402b" stroke-width="1.6" stroke-dasharray="3.5 1.2"/>
<path d="M390.20,67.80 L381.90,73.10 L381.90,62.50 Z" fill="#e2402b"/>
<line x1="338.00" y1="67.80" x2="330.80" y2="67.80" stroke="#e2402b" stroke-width="1.6" stroke-dasharray="3.5 1.2"/>
<path d="M323.00,67.80 L331.30,62.50 L331.30,73.10 Z" fill="#e2402b"/>
<line x1="358.20" y1="87.00" x2="358.30" y2="94.90" stroke="#e2402b" stroke-width="1.6" stroke-dasharray="3.5 1.2"/>
<path d="M358.40,102.70 L352.99,94.47 L363.59,94.33 Z" fill="#e2402b"/>
<circle cx="430.7" cy="67" r="35.3" fill="#fff" stroke="#000" stroke-width="2"/>
<circle cx="430.7" cy="67.5" r="20.8" fill="#f1edd0" stroke="#e2402b" stroke-width="2.2" stroke-dasharray="4.6 2.5"/>
<circle cx="430.7" cy="67.5" r="11.5" fill="#98f1e7" stroke="#1c66be" stroke-width="2.1" stroke-dasharray="2.0 2.1"/>
<circle cx="423.5" cy="52.5" r="1.0" fill="#111"/>
<circle cx="435.8" cy="65" r="1.0" fill="#111"/>
<circle cx="431.5" cy="73" r="1.0" fill="#111"/>
<circle cx="446.5" cy="72" r="1.0" fill="#111"/>
<circle cx="426" cy="85" r="1.0" fill="#111"/>
<circle cx="441" cy="80" r="1.0" fill="#111"/>
<line x1="422.50" y1="59.50" x2="413.95" y2="50.27" stroke="#2e72c6" stroke-width="1.7"/>
<path d="M407.50,43.30 L417.96,47.24 L410.63,54.03 Z" fill="#2e72c6"/>
<line x1="439.00" y1="59.50" x2="448.09" y2="50.12" stroke="#2e72c6" stroke-width="1.7"/>
<path d="M454.70,43.30 L451.33,53.96 L444.15,47.00 Z" fill="#2e72c6"/>
<line x1="422.50" y1="75.50" x2="414.60" y2="84.18" stroke="#2e72c6" stroke-width="1.7"/>
<path d="M408.20,91.20 L411.24,80.44 L418.63,87.17 Z" fill="#2e72c6"/>
<line x1="439.00" y1="75.50" x2="447.83" y2="85.26" stroke="#2e72c6" stroke-width="1.7"/>
<path d="M454.20,92.30 L443.78,88.24 L451.20,81.53 Z" fill="#2e72c6"/>
<line x1="430.40" y1="47.00" x2="430.40" y2="39.30" stroke="#e2402b" stroke-width="1.4" stroke-dasharray="3.5 1.2"/>
<path d="M430.40,33.00 L434.60,39.80 L426.20,39.80 Z" fill="#e2402b"/>
<line x1="451.50" y1="67.30" x2="459.50" y2="67.30" stroke="#e2402b" stroke-width="1.4" stroke-dasharray="3.5 1.2"/>
<path d="M465.80,67.30 L459.00,71.50 L459.00,63.10 Z" fill="#e2402b"/>
<line x1="409.80" y1="67.30" x2="402.70" y2="67.30" stroke="#e2402b" stroke-width="1.4" stroke-dasharray="3.5 1.2"/>
<path d="M396.40,67.30 L403.20,63.10 L403.20,71.50 Z" fill="#e2402b"/>
<line x1="430.60" y1="88.00" x2="430.60" y2="95.10" stroke="#e2402b" stroke-width="1.4" stroke-dasharray="3.5 1.2"/>
<path d="M430.60,101.40 L426.40,94.60 L434.80,94.60 Z" fill="#e2402b"/>
<circle cx="505.5" cy="67" r="35.4" fill="#fff" stroke="#000" stroke-width="2"/>
<circle cx="505.5" cy="67" r="33.6" fill="#f1edd0"/>
<circle cx="506.3" cy="67.1" r="30.6" fill="none" stroke="#e2402b" stroke-width="2.4" stroke-dasharray="5.4 2.8"/>
<circle cx="506.3" cy="67.1" r="25" fill="#98f1e7" stroke="#1c66be" stroke-width="2.1" stroke-dasharray="2.0 2.3"/>
<circle cx="491.6" cy="50.6" r="2" fill="#000"/>
<circle cx="506" cy="49.5" r="1.2" fill="#000"/>
<circle cx="506" cy="39.8" r="1.2" fill="#000"/>
<circle cx="510.9" cy="54.1" r="1.2" fill="#000"/>
<circle cx="519.9" cy="49.5" r="1.2" fill="#000"/>
<circle cx="515.7" cy="59.9" r="2" fill="#000"/>
<circle cx="521.9" cy="60.6" r="1.1" fill="#000"/>
<circle cx="485" cy="60.6" r="1" fill="#000"/>
<circle cx="492.8" cy="68" r="2" fill="#000"/>
<circle cx="525.3" cy="68.4" r="1" fill="#000"/>
<circle cx="504.4" cy="76.6" r="1.1" fill="#000"/>
<circle cx="510.6" cy="76.6" r="2" fill="#000"/>
<circle cx="495.6" cy="79.7" r="1" fill="#000"/>
<circle cx="522.2" cy="80.5" r="1" fill="#000"/>
<circle cx="515.2" cy="86.3" r="2.5" fill="#000"/>
<circle cx="533" cy="90.5" r="1.2" fill="#000"/>
<text x="499.8" y="64.2" font-family="DejaVu Sans, sans-serif" font-size="10.5" text-anchor="middle" fill="#000">★</text>
<text x="514.5" y="74" font-family="DejaVu Sans, sans-serif" font-size="6.5" text-anchor="middle" fill="#000">★</text>
<line x1="486.86" y1="50.56" x2="485.80" y2="49.50" stroke="#2e72c6" stroke-width="1.2"/>
<path d="M481.20,44.90 L488.62,47.37 L483.67,52.32 Z" fill="#2e72c6"/>
<line x1="524.14" y1="50.06" x2="525.20" y2="49.00" stroke="#2e72c6" stroke-width="1.2"/>
<path d="M529.80,44.40 L527.33,51.82 L522.38,46.87 Z" fill="#2e72c6"/>
<line x1="490.16" y1="80.34" x2="489.10" y2="81.40" stroke="#2e72c6" stroke-width="1.2"/>
<path d="M484.50,86.00 L486.97,78.58 L491.92,83.53 Z" fill="#2e72c6"/>
<line x1="521.34" y1="79.84" x2="522.40" y2="80.90" stroke="#2e72c6" stroke-width="1.2"/>
<path d="M527.00,85.50 L519.58,83.03 L524.53,78.08 Z" fill="#2e72c6"/>
<line x1="505.50" y1="36.50" x2="505.50" y2="31.60" stroke="#e2402b" stroke-width="1.4"/>
<path d="M505.50,26.30 L509.50,32.10 L501.50,32.10 Z" fill="#e2402b"/>
<line x1="537.00" y1="66.70" x2="539.00" y2="66.70" stroke="#e2402b" stroke-width="1.4"/>
<path d="M545.00,66.70 L538.50,70.70 L538.50,62.70 Z" fill="#e2402b"/>
<line x1="476.00" y1="67.00" x2="471.60" y2="67.00" stroke="#e2402b" stroke-width="1.4"/>
<path d="M465.60,67.00 L472.10,63.00 L472.10,71.00 Z" fill="#e2402b"/>
<line x1="506.00" y1="98.00" x2="506.00" y2="102.40" stroke="#e2402b" stroke-width="1.4"/>
<path d="M506.00,108.30 L501.80,101.90 L510.20,101.90 Z" fill="#e2402b"/>
</svg>
</body></html>
